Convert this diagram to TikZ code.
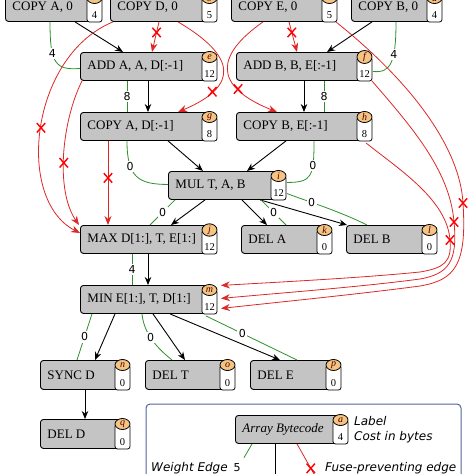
\documentclass[tikz,border=0pt]{standalone}
\usepackage{fontspec}
\setmainfont{Liberation Serif}
\newfontfamily\dvs{DejaVu Sans}
\usetikzlibrary{shapes.geometric,shapes.misc,arrows.meta,calc}
\definecolor{boxgray}{RGB}{196,196,196}
\definecolor{lblorange}{RGB}{245,195,130}
\definecolor{fred}{RGB}{222,40,40}
\definecolor{xred}{RGB}{255,0,0}
\definecolor{wgreen}{RGB}{45,145,45}
\definecolor{legblue}{RGB}{85,100,160}
\tikzset{
 bcbox/.style={draw=black, fill=boxgray, line width=0.9pt, rounded corners=3pt, inner xsep=7pt, inner ysep=0pt, font=\fontsize{13}{15}\selectfont},
 bccost/.style={inner sep=0pt, font=\fontsize{10.5}{11}\selectfont},
 bclab/.style={ellipse, draw=black, fill=lblorange, line width=0.8pt, minimum width=15pt, minimum height=11pt, inner sep=0pt, font=\fontsize{10}{10}\selectfont\itshape, text=black!70!red},
 dep/.style={draw=black, line width=0.9pt, -{Stealth[length=8pt,width=6.5pt]}},
 fuse/.style={draw=fred, line width=0.8pt, -{Stealth[length=9pt,width=7pt]}},
 xmark/.style={cross out, draw=xred, line width=1.4pt, minimum width=7pt, minimum height=8pt, inner sep=0pt},
 wedge/.style={draw=wgreen, line width=0.8pt},
 wlab/.style={fill=white, inner sep=1.5pt, font=\dvs\fontsize{11}{12}\selectfont},
 legtext/.style={font=\dvs\itshape\fontsize{12}{13}\selectfont, anchor=west, inner sep=0pt}
}
\newcommand{\bcnode}[8]{%
  \pgfmathsetmacro{\bcw}{#4-#2-6}%
  \pgfmathsetmacro{\bch}{#5-#3}%
  \pgfmathsetmacro{\bctw}{#4-#2-6-14}%
  \node[bcbox, minimum width=\bcw pt, minimum height=\bch pt, anchor=north west] (#1) at (#2,#3) {\makebox[\bctw pt][l]{#6}};
  \pgfmathsetmacro{\bccx}{#4-7.5}%
  \fill[white, draw=black, line width=0.8pt, rounded corners=2.5pt] (\bccx-7.5,#3+5) rectangle (\bccx+7.5,#5+1);
  \node[bccost] (#1c) at (\bccx,#5-6) {#8};
  \node[bclab] (#1l) at (\bccx,#3+5) {#7};
}
\begin{document}
\begin{tikzpicture}[x=1pt,y=-1pt]
\useasboundingbox (0,0) rectangle (474,474);
\fill[white] (0,0) rectangle (474,474);
\clip (0,0) rectangle (474,474);

% nodes
\bcnode{ca}{5}{-7}{102}{21}{COPY A, 0}{a}{4}
\bcnode{cd}{110}{-7}{217}{21}{COPY D, 0}{b}{5}
\bcnode{ce}{231}{-7}{337}{21}{COPY E, 0}{c}{5}
\bcnode{cb}{351}{-7}{442}{21}{COPY B, 0}{d}{4}
\bcnode{adda}{80}{52}{217}{80}{ADD A, A, D[:-1]}{e}{12}
\bcnode{addb}{236}{52}{372}{80}{ADD B, B, E[:-1]}{f}{12}
\bcnode{cpad}{80}{112}{217}{140}{COPY A, D[:-1]}{g}{8}
\bcnode{cpbe}{236}{112}{372}{140}{COPY B, E[:-1]}{h}{8}
\bcnode{mul}{168}{171}{286}{199}{MUL T, A, B}{i}{12}
\bcnode{max}{80}{225}{217}{253}{MAX D[1:], T, E[1:]}{j}{12}
\bcnode{dela}{241}{225}{332}{253}{DEL A}{k}{0}
\bcnode{delb}{346}{225}{437}{253}{DEL B}{l}{0}
\bcnode{min}{80}{285}{217}{313}{MIN E[1:], T, D[1:]}{m}{12}
\bcnode{syncd}{40}{360}{130}{389}{SYNC D}{n}{0}
\bcnode{delt}{145}{360}{235}{389}{DEL T}{o}{0}
\bcnode{dele}{250}{360}{341}{389}{DEL E}{p}{0}
\bcnode{deld}{40}{419}{130}{448}{DEL D}{q}{0}

% black dependency edges
\draw[dep] ($(ca.south west)+(70,0)$) -- ($(adda.north west)+(43,0)$);
\draw[dep] ($(cb.south west)+(21,0)$) -- ($(addb.north west)+(91,0)$);
\draw[dep] ($(adda.south west)+(68,0)$) -- ($(cpad.north west)+(68,0)$);
\draw[dep] ($(addb.south west)+(68,0)$) -- ($(cpbe.north west)+(68,0)$);
\draw[dep] ($(cpad.south west)+(88,0)$) -- ($(mul.north west)+(35,0)$);
\draw[dep] ($(cpbe.south west)+(50,0)$) -- ($(mul.north west)+(79,0)$);
\draw[dep] ($(mul.south west)+(37,0)$) -- ($(max.north west)+(91,0)$);
\draw[dep] ($(mul.south west)+(74,0)$) -- ($(dela.north west)+(26,0)$);
\draw[dep] ($(mul.south west)+(92,0)$) -- ($(delb.north west)+(1,0)$);
\draw[dep] ($(max.south west)+(68,0)$) -- ($(min.north west)+(68,0)$);
\draw[dep] ($(min.south west)+(35,0)$) -- ($(syncd.north west)+(55,0)$);
\draw[dep] ($(min.south west)+(73,0)$) -- ($(delt.north west)+(40,0)$);
\draw[dep] ($(min.south west)+(90,0)$) -- ($(dele.north west)+(30,0)$);
\draw[dep] ($(syncd.south west)+(45,0)$) -- ($(deld.north west)+(45,0)$);

% green weight edges
\draw[wedge] ($(ca.south west)+(45,0)$) .. controls +(0,41) and +(-25,2) .. ($(adda.west)+(0,2)$) node[wlab,pos=0.35]{4};
\draw[wedge] ($(cb.south west)+(45,0)$) .. controls +(0,40) and +(18,2) .. ($(addb.east)+(6,5)$) node[wlab,pos=0.35]{4};
\draw[wedge] ($(adda.south west)+(47,0)$) -- ($(cpad.north west)+(47,0)$) node[wlab,midway]{8};
\draw[wedge] ($(addb.south west)+(88,0)$) -- ($(cpbe.north west)+(88,0)$) node[wlab,midway]{8};
\draw[wedge] ($(cpad.south west)+(47,0)$) .. controls +(0,36) and +(-30,0) .. ($(mul.west)+(0,-1)$) node[wlab,pos=0.3]{0};
\draw[wedge] ($(cpbe.south west)+(78,0)$) .. controls +(0,36) and +(25,0) .. ($(mul.east)+(6,-3)$) node[wlab,pos=0.3]{0};
\draw[wedge] ($(mul.south west)+(7,0)$) -- ($(max.north west)+(70,0)$) node[wlab,midway]{0};
\draw[wedge] ($(mul.south west)+(93,0)$) -- ($(dela.north west)+(45,0)$) node[wlab,midway]{0};
\draw[wedge] ($(mul.east)+(6,8)$) .. controls +(12,5) and +(-30,-15) .. ($(delb.north west)+(21,0)$) node[wlab,pos=0.4]{0};
\draw[wedge] ($(max.south west)+(52,0)$) -- ($(min.north west)+(52,0)$) node[wlab,midway]{4};
\draw[wedge] ($(min.south west)+(12,0)$) -- ($(syncd.north west)+(37,0)$) node[wlab,midway]{0};
\draw[wedge] ($(min.south west)+(62,0)$) .. controls +(2,20) and +(-15,-12) .. ($(delt.north west)+(27,0)$) node[wlab,pos=0.45]{0};
\draw[wedge] ($(min.south east)+(-6,2)$) -- ($(dele.north west)+(47,0)$) node[wlab,pos=0.4]{0};

% red fuse-preventing edges
\draw[fuse] ($(cd.south west)+(49,0)$) -- ($(adda.north west)+(72,0)$) node[xmark,pos=0.35]{};
\draw[fuse] ($(cd.south west)+(68,0)$) .. controls +(58,34) and +(62,-26) .. ($(cpad.north west)+(98,0)$) node[xmark,pos=0.75]{};
\draw[fuse] ($(ce.south west)+(58,0)$) -- ($(addb.north west)+(61,0)$) node[xmark,pos=0.35]{};
\draw[fuse] ($(ce.south west)+(32,0)$) .. controls +(-47,33) and +(-65,-26) .. ($(cpbe.north west)+(41,0)$) node[xmark,pos=0.72]{};
\draw[fuse] ($(cd.south west)+(3,0)$) .. controls +(-83,34) and +(-65,-33) .. ($(max.north west)+(0,8)$) node[xmark,pos=0.5]{};
\draw[fuse] ($(adda.south west)+(2,0)$) .. controls +(-20,40) and +(-24,-35) .. ($(max.north west)+(-1,0)$) node[xmark,pos=0.55]{};
\draw[fuse] ($(cpad.south west)+(28,0)$) -- ($(max.north west)+(28,0)$) node[xmark,pos=0.44]{};

\coordinate (o1) at (463,203);
\coordinate (o2) at (420,286);
\coordinate (m1) at (454,222);
\coordinate (m2) at (420,279);
\coordinate (i1) at (450,240);
\coordinate (i2) at (420,272);
\draw[fuse] ($(ce.south east)+(4,0)$) .. controls (415,85) and (460,150) .. (o1) node[xmark]{}
  .. controls (467,265) and (455,280) .. (o2) .. controls (360,294) and (280,302) .. ($(min.east)+(9,9)$);
\draw[fuse] ($(addb.south east)+(5,0)$) .. controls (410,125) and (450,170) .. (m1) node[xmark]{}
  .. controls (458,262) and (448,274) .. (m2) .. controls (360,287) and (280,293) .. ($(min.east)+(9,-1)$);
\draw[fuse] ($(cpbe.south east)+(-1,2)$) .. controls (400,170) and (447,200) .. (i1) node[xmark]{}
  .. controls (452,262) and (444,268) .. (i2) .. controls (360,278) and (280,282) .. ($(min.east)+(9,-14)$);

% legend
\draw[legblue, line width=1pt, rounded corners=4pt] (146,404) rectangle (461,495);
\bcnode{ab}{235}{415}{348}{443}{\itshape Array Bytecode}{a}{4}
\node[legtext] (lgl) at (354,421) {Label};
\node[legtext] (lgc) at (354,437) {Cost in bytes};
\node[legtext] (lgw) at (151,468) {Weight Edge};
\node[wlab, fill=none, inner sep=0pt] (lg5) at (237,468) {5};
\node[legtext] (lgf) at (325,468) {Fuse-preventing edge};
\coordinate (lgb) at (275,490);
\coordinate (lgr) at (323,490);
\draw[wedge] ($(ab.south west)+(17,0)$) -- ($(lg5.north)+(7,-6)$);
\draw[black, line width=0.9pt] ($(ab.south west)+(40,0)$) -- (lgb);
\draw[fred, line width=0.8pt] ($(ab.south west)+(62,0)$) -- (lgr) node[xmark,pos=0.53]{};
\end{tikzpicture}
\end{document}
